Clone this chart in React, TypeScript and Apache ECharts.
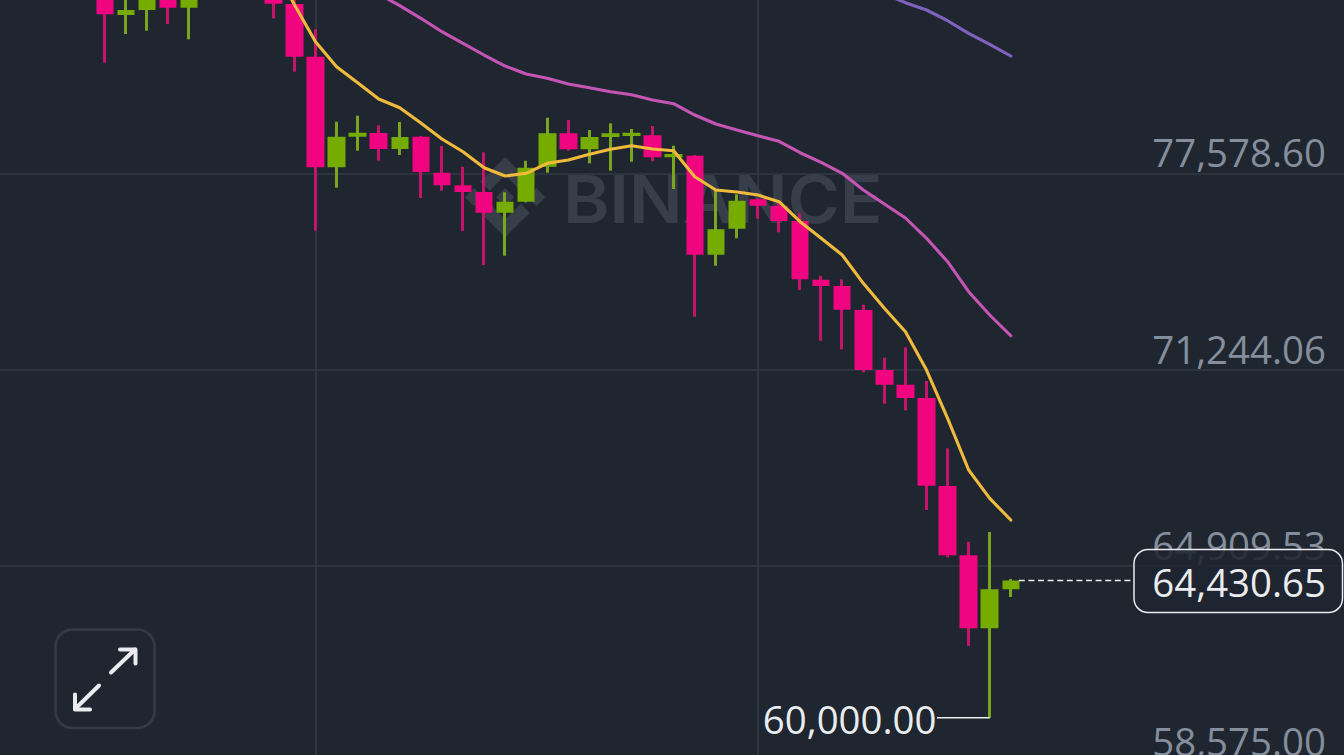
import React, { useEffect, useRef } from "react";
import * as echarts from "echarts";

const leadingSlots = 5;
const trailingSlots = 16;
const opens = [83655,82686,82848,83558,82922,83650,84100,84500,83494,83041,81340,77770,78758,78877,78361,78758,77596,77189,76973,76305,76660,77790,78868,78351,78748,78780,78803,78093,78145,74949,75789,76738,76521,76037,74142,73939,73164,71227,70753,70324,67483,65246,62889,64148];
const closes = [82709,82848,83494,82922,83655,84100,84500,84000,83051,81340,77770,78758,78887,78361,78748,77618,77189,76973,76305,76660,77757,78868,78351,78748,78868,78887,78093,78200,74949,75769,76692,76531,76037,74155,73939,73174,71227,70753,70324,67493,65246,62889,64148,64430.65];
const lows = [81147,82073,82180,82396,81902,83300,83700,83600,82580,80856,75724,77112,78306,77983,78167,76779,77015,75714,74616,74917,76640,77596,78306,77899,77660,77951,77964,77070,72948,74594,75479,76111,75672,73810,72173,71896,71153,70140,69926,66708,65181,62328,60000,63900];
const highs = [83881,83429,83752,83816,83816,84400,84800,84900,83623,83171,82225,79242,79436,79126,79232,78780,78458,77790,78254,76963,77983,79371,79297,78974,79190,79007,79103,78468,78167,77038,76899,76779,76618,76286,74262,74155,73335,71624,71960,70872,68700,65685,65998,64481];
const ma7 = [null,null,null,null,null,null,null,null,84300,83019,81825,81018,80501,79975,79694,79200,78684,78274,77757,77489,77577,77899,78006,78190,78351,78468,78361,78306,77467,77038,76973,76876,76660,76014,75479,74939,74026,73219,72463,71227,69668,68000,67085,66385];
const ma25 = [null,null,null,null,null,null,null,null,null,null,84720,84268,83816,83364,82987,82580,82147,81773,81395,81040,80782,80643,80459,80340,80211,80114,79943,79823,79458,79168,78974,78790,78610,78241,77932,77577,77038,76586,76134,75479,74723,73755,73003,72334];
const ma99 = [null,null,null,null,null,null,null,null,null,null,null,null,null,null,null,null,null,null,null,null,null,null,null,null,null,null,null,null,null,null,null,null,null,null,null,null,83655,83364,83084,82848,82502,82096,81741,81363];
const gridTicks = [58575.0, 64909.53, 71244.06, 77578.6];
const axisMin = 58575.0;
const axisMax = 83913.14;
const lastPrice = 64430.65;
const lowPrice = 60000.0;
const verticalGridCandles = [10, 31];

const BG = "#1F2630";
const GRID = "#343A45";
const TEXT = "#EAECEF";
const MUTED = "#848E9C";
const FONT = "'Open Sans', 'Noto Sans', sans-serif";
const WM_FONT = "Inter, 'Noto Sans', sans-serif";
const fmt = (v: number) => v.toLocaleString("en-US", { minimumFractionDigits: 2, maximumFractionDigits: 2 });

const BINANCE_D = "M16.624 13.9202l2.7175 2.7154-7.353 7.353-7.353-7.352 2.7175-2.7164 4.6355 4.6595 4.6356-4.6595zm4.6366-4.6366L24 12l-2.7154 2.7164L18.5682 12l2.6924-2.7164zm-9.272.001l2.7163 2.6914-2.7164 2.7174v-.001L9.2721 12l2.7164-2.7154zm-9.2722-.001L5.4088 12l-2.6914 2.6924L0 12l2.7164-2.7164zM11.9885.0115l7.353 7.329-2.7174 2.7154-4.6356-4.6356-4.6355 4.6595-2.7174-2.7154 7.353-7.353z";
echarts.graphic.registerShape("binanceLogo", echarts.graphic.extendPath(BINANCE_D, {}));

const pad = <T,>(values: T[], fill: any) => [
  ...Array(leadingSlots).fill(fill),
  ...values,
  ...Array(trailingSlots).fill(fill),
];

export default function App() {
  const ref = useRef<HTMLDivElement>(null);
  useEffect(() => {
    document.body.style.margin = "0";
    document.body.style.background = BG;
    const chart = echarts.init(ref.current!, undefined, { renderer: "svg" });
    const total = leadingSlots + opens.length + trailingSlots;
    const categories = Array.from({ length: total }, (_, i) => `D${i + 1}`);
    const candles = pad(
      opens.map((o, i) => [o, closes[i], lows[i], highs[i]]),
      ["-", "-", "-", "-"]
    );
    const lineSeries = (name: string, values: (number | null)[], color: string) => ({
      name,
      type: "line",
      data: pad(values, null),
      showSymbol: false,
      symbol: "none",
      z: 5,
      lineStyle: { color, width: 3.1, cap: "round", join: "round" },
      silent: true,
    });
    const verticalSlots = verticalGridCandles.map((c) => c + leadingSlots);
    chart.setOption({
      animation: false,
      backgroundColor: BG,
      tooltip: { show: false },
      grid: { left: -11.085, right: -14.465, top: -23, bottom: -7, containLabel: false, outerBoundsMode: "none" },
      xAxis: {
        type: "category",
        data: categories,
        axisLine: { show: false },
        axisLabel: { show: false },
        axisTick: { show: false, alignWithLabel: true },
        splitLine: {
          show: true,
          alignWithLabel: true,
          interval: (i: number) => verticalSlots.includes(i),
          lineStyle: { color: GRID, width: 1.6 },
        },
      },
      yAxis: {
        type: "value",
        position: "right",
        min: axisMin,
        max: axisMax,
        axisLine: { show: false },
        axisTick: { show: false, customValues: gridTicks },
        splitLine: { show: true, lineStyle: { color: GRID, width: 1.6 } },
        axisLabel: {
          inside: true,
          customValues: gridTicks,
          margin: 32.5,
          color: MUTED,
          fontFamily: FONT,
          fontSize: 38.4,
          fontWeight: 400,
          verticalAlign: "bottom",
          padding: [0, 0, 2, 0],
          formatter: (v: number) => fmt(v),
        },
      },
      series: [
        {
          name: "Wicks",
          type: "candlestick",
          data: candles,
          barWidth: 1,
          z: 2,
          itemStyle: {
            color: "#7AA51E",
            color0: "#C4146C",
            borderColor: "#7AA51E",
            borderColor0: "#C4146C",
            borderColorDoji: "#7AA51E",
            borderWidth: 3,
          },
        },
        {
          name: "BTCUSDT",
          type: "candlestick",
          data: candles,
          barWidth: 18,
          z: 3,
          itemStyle: {
            color: "#76AB00",
            color0: "#F0047F",
            borderColor: "#76AB00",
            borderColor0: "#F0047F",
            borderColorDoji: "#76AB00",
            borderWidth: 0,
          },
        },
        lineSeries("MA7", ma7, "#F0BA3C"),
        lineSeries("MA25", ma25, "#C455B4"),
        lineSeries("MA99", ma99, "#7E62BE"),
      ],
    });

    const yOf = (v: number) => chart.convertToPixel({ yAxisIndex: 0 }, v) as number;
    const xOf = (i: number) => chart.convertToPixel({ xAxisIndex: 0 }, i + leadingSlots) as number;
    const lastX = xOf(opens.length - 1);
    const lastY = yOf(lastPrice);
    const lowIdx = lows.indexOf(lowPrice);
    const lowX = xOf(lowIdx);
    const lowY = yOf(lowPrice);
    const wm = "#383E49";
    chart.setOption({
      graphic: [
        { type: "binanceLogo", x: 465, y: 157, scaleX: 3.35, scaleY: 3.35, z: 0, silent: true, style: { fill: wm } },
        {
          type: "text", x: 563, y: 198.5, z: 0, silent: true, scaleX: 1.07,
          style: { text: "BINANCE", fill: wm, font: `600 66px ${WM_FONT}`, textAlign: "left", textVerticalAlign: "middle" },
        },
        {
          type: "line", z: 6, silent: true,
          shape: { x1: lastX + 8, y1: lastY, x2: 1134, y2: lastY },
          style: { stroke: TEXT, lineWidth: 1.5, lineDash: [6, 3.6] },
        },
        {
          type: "rect", z: 7, silent: true,
          shape: { x: 1134, y: 549.5, width: 208.5, height: 63, r: 14 },
          style: { fill: "rgba(31,38,48,0.88)", stroke: TEXT, lineWidth: 1.5 },
        },
        {
          type: "text", x: 1326, y: lastY + 1, z: 8, silent: true,
          style: { text: fmt(lastPrice), fill: TEXT, font: `400 38.4px ${FONT}`, textAlign: "right", textVerticalAlign: "middle" },
        },
        {
          type: "line", z: 6, silent: true,
          shape: { x1: 937, y1: lowY, x2: lowX, y2: lowY },
          style: { stroke: TEXT, lineWidth: 1.5 },
        },
        {
          type: "text", x: 936.5, y: lowY + 1.5, z: 8, silent: true,
          style: { text: fmt(lowPrice), fill: TEXT, font: `400 38.4px ${FONT}`, textAlign: "right", textVerticalAlign: "middle" },
        },
        {
          type: "rect", z: 7, silent: true,
          shape: { x: 55.5, y: 629.5, width: 99, height: 98.5, r: 17 },
          style: { fill: BG, stroke: GRID, lineWidth: 2.6 },
        },
        ...[
          [[111, 672.5], [135, 649.5]],
          [[120, 649.5], [135.5, 649.5], [135.5, 663.5]],
          [[99, 685.5], [75, 709]],
          [[75, 694.5], [75, 709.5], [90, 709.5]],
        ].map((points) => ({
          type: "polyline", z: 8, silent: true,
          shape: { points },
          style: { stroke: TEXT, lineWidth: 4, fill: "none", lineCap: "round", lineJoin: "round" },
        })),
      ],
    });
    return () => chart.dispose();
  }, []);
  return <div ref={ref} style={{ width: 1344, height: 755, overflow: "hidden" }} />;
}
